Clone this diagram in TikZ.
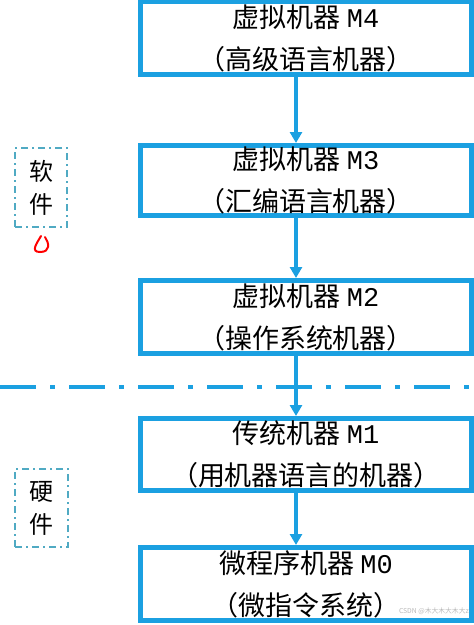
\documentclass[tikz,border=0pt]{standalone}
\usepackage{fontspec}
\setmainfont{Noto Sans CJK SC}
\newfontfamily\monofont{Liberation Mono}
\usetikzlibrary{arrows.meta}
\definecolor{boxblue}{RGB}{27,160,225}
\definecolor{tagblue}{RGB}{80,170,195}
\tikzset{
  machine/.style={draw=boxblue, line width=5pt, minimum width=331pt, align=center, inner sep=0pt, font=\fontsize{27}{42}\selectfont},
  arr/.style={-{Triangle[width=12pt,length=11pt]}, draw=boxblue, line width=3.5pt},
  tag/.style={draw=tagblue, line width=1.3pt, dash pattern=on 7pt off 4pt on 2pt off 4pt, minimum width=52pt, align=center, inner sep=0pt, font=\fontsize{24}{33}\selectfont},
  sepline/.style={draw=boxblue, line width=4pt, dash pattern=on 36pt off 14pt on 5pt off 14pt},
}
\begin{document}
\begin{tikzpicture}[x=1pt, y=-1pt]
        \useasboundingbox (0,0) rectangle (474,625);
        \node[machine, minimum height=72.5pt] (m4) at (306,38) {虚拟机器 {\monofont M4}\\（高级语言机器）};
        \node[machine, minimum height=70pt] (m3) at (306,180.5) {虚拟机器 {\monofont M3}\\（汇编语言机器）};
        \node[machine, minimum height=73pt] (m2) at (306,317) {虚拟机器 {\monofont M2}\\（操作系统机器）};
        \node[machine, minimum height=72pt] (m1) at (306,454.5) {传统机器 {\monofont M1}\\（用机器语言的机器）};
        \node[machine, minimum height=73pt] (m0) at (306,584) {微程序机器 {\monofont M0}\\（微指令系统）};
        \node[tag, minimum height=79pt] (soft) at (41,187.5) {软\\件};
        \node[tag, minimum height=78pt, minimum width=53pt] (hard) at (41.5,508) {硬\\件};
        % software / hardware border
        \draw[sepline] (0,387) -- (474,387);
        \draw[arr] ([xshift=-10pt]m4.south) -- ([xshift=-10pt]m3.north);
        \draw[arr] ([xshift=-10pt]m3.south) -- ([xshift=-10pt]m2.north);
        \draw[arr] ([xshift=-10pt]m2.south) -- ([xshift=-10pt]m1.north);
        \draw[arr] ([xshift=-10pt]m1.south) -- ([xshift=-10pt]m0.north);
        % red pen mark
        \draw[red, line width=2pt, line cap=round] (41,236) .. controls (37,243) and (30,252) .. (40,252) .. controls (51,252) and (49,243) .. (45,237);
        \node[text=gray!55, font=\fontsize{6.8}{7}\selectfont, anchor=east, inner sep=0pt] (mark) at (469,611) {CSDN @木大木大木大z};
\end{tikzpicture}
\end{document}
